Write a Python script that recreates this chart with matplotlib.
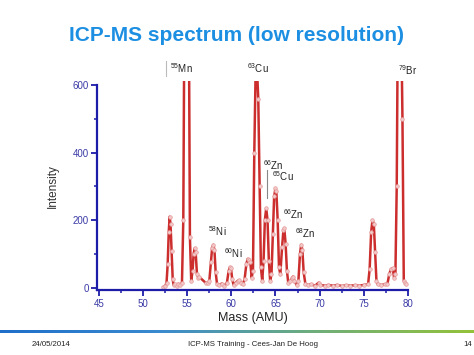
import numpy as np
import matplotlib
matplotlib.use("Agg")
import matplotlib.pyplot as plt
from matplotlib.colors import LinearSegmentedColormap

plt.rcParams['font.family'] = ['Liberation Sans', 'DejaVu Sans']
plt.rcParams['mathtext.fontset'] = 'custom'
plt.rcParams['mathtext.rm'] = 'Liberation Sans'
plt.rcParams['mathtext.it'] = 'Liberation Sans'

# Spectrum (mass in AMU, intensity in counts)
mass = [52.3, 52.5, 52.65, 52.78, 52.9, 53.0, 53.1, 53.22, 53.35, 53.45, 53.6, 53.8,
        54.0, 54.2, 54.4, 54.55, 54.65, 55.0, 55.2, 55.3, 55.45, 55.6, 55.72,
        55.85, 55.95, 56.1, 56.25, 56.35, 57.1, 57.3, 57.5, 57.68, 57.82, 57.95,
        58.08, 58.22, 58.38, 58.6, 58.9, 59.2, 59.5, 59.68, 59.82, 59.95, 60.1,
        60.25, 60.5, 60.7, 60.9, 61.1, 61.3, 61.5, 61.7, 61.85, 62.0, 62.15,
        62.3, 62.45, 62.6, 62.75, 62.95, 63.05, 63.2, 63.35, 63.5, 63.65, 63.8,
        63.95, 64.1, 64.25, 64.4, 64.55, 64.7, 64.85, 65.0, 65.1, 65.25, 65.4,
        65.55, 65.75, 65.9, 66.0, 66.15, 66.3, 66.45, 66.7, 66.9, 67.0, 67.15,
        67.4, 67.6, 67.78, 67.92, 68.05, 68.2, 68.4, 68.7, 69.0, 69.5, 69.9,
        70.1, 70.6, 71.0, 71.5, 72.0, 72.5, 73.0, 73.5, 74.0, 74.5, 75.0, 75.5,
        75.68, 75.85, 76.0, 76.15, 76.3, 76.45, 76.6, 77.0, 77.4, 77.7, 77.9,
        78.1, 78.3, 78.45, 78.6, 78.75, 78.9, 79.2, 79.4, 79.55, 79.7, 79.8]
intensity = [2, 5, 15, 70, 165, 210, 190, 110, 25, 8, 10, 6,
             12, 8, 15, 200, 700, 900, 700, 150, 20, 50, 100,
             117, 105, 40, 30, 32, 14, 15, 20, 75, 118, 127,
             112, 45, 10, 8, 12, 6, 15, 48, 60, 58, 25,
             8, 15, 20, 22, 15, 10, 25, 70, 85, 82, 75,
             30, 50, 400, 640, 620, 560, 300, 60, 20, 80, 200,
             235, 200, 80, 20, 40, 160, 270, 294, 285, 200, 60,
             40, 120, 170, 176, 130, 50, 15, 20, 30, 33, 20,
             8, 20, 100, 127, 112, 45, 10, 8, 10, 6, 15,
             8, 6, 8, 6, 8, 5, 7, 6, 7, 6, 8, 10,
             55, 165, 200, 190, 105, 20, 10, 8, 10, 12, 40,
             55, 57, 30, 40, 300, 900, 900, 500, 20, 15, 10]

# Peak labels: (text, mass, intensity)
peak_labels = [(r'$^{55}$Mn', 53.05, 650), (r'$^{63}$Cu', 61.75, 650),
               (r'$^{79}$Br', 78.87, 644), (r'$^{66}$Zn', 63.56, 363),
               (r'$^{65}$Cu', 64.65, 329), (r'$^{66}$Zn', 65.9, 218),
               (r'$^{68}$Zn', 67.22, 163), (r'$^{58}$Ni', 57.4, 168),
               (r'$^{60}$Ni', 59.2, 102)]

x_ticks = [45, 50, 55, 60, 65, 70, 75, 80]
y_ticks = [0, 200, 400, 600]

AXIS_BLUE = '#1c1ca8'
LABEL_BLUE = '#3a3aa6'

fig = plt.figure(figsize=(4.74, 3.55), dpi=100)
fig.patch.set_facecolor('white')

ax = fig.add_axes([0.2053, 0.182, 0.6568, 0.590])
ax.plot(mass, intensity, color='#cc2e2e', lw=1.8, marker='o', ms=2.6,
        mfc='#f3c9c9', mec='#e59a9a', mew=0.5)
ax.set_xlim(44.8, 80.1)
ax.set_ylim(-8, 612)

for s in ['top', 'right']:
    ax.spines[s].set_visible(False)
for s in ['left', 'bottom']:
    ax.spines[s].set_color(AXIS_BLUE)
    ax.spines[s].set_linewidth(1.6)
ax.spines['left'].set_bounds(-8, 600)
ax.spines['bottom'].set_bounds(44.8, 80.0)

ax.set_xticks(x_ticks)
ax.set_yticks(y_ticks)
ax.set_xticks([47.5, 52.5, 57.5, 62.5, 67.5, 72.5, 77.5], minor=True)
ax.set_yticks([100, 300, 500], minor=True)
ax.tick_params(axis='both', which='major', direction='out', length=4, width=1.3,
               color=AXIS_BLUE, labelcolor=LABEL_BLUE, labelsize=7, pad=2)
ax.tick_params(axis='both', which='minor', direction='out', length=2.5, width=1.1,
               color=AXIS_BLUE)

ax.set_ylabel('Intensity', fontsize=8.5, color='#333333', labelpad=10)
ax.set_xlabel('Mass (AMU)', fontsize=9, color='#222222', labelpad=2)

for txt, mx, iy in peak_labels:
    ax.text(mx, iy, txt, fontsize=7, color='#222222', ha='left', va='center',
            clip_on=False)

# small leader lines
ax.plot([52.6, 52.6], [628, 672], color='#bbbbbb', lw=0.8, clip_on=False)
ax.plot([64.0, 64.0], [265, 348], color='#888888', lw=0.8, clip_on=False)

fig.text(0.499, 0.901, 'ICP-MS spectrum (low resolution)', fontsize=15,
         fontweight='bold', color='#1d8fe2', ha='center', va='center')

# footer bar with gradient
bar = fig.add_axes([0.0, (355 - 333) / 355, 1.0, 3.5 / 355])
cmap = LinearSegmentedColormap.from_list('foot', ['#1f6ec9', '#3a8ad0', '#6fae7a', '#93c23a'])
bar.imshow(np.linspace(0, 1, 256)[None, :], aspect='auto', cmap=cmap)
bar.axis('off')

fig.text(51 / 474, 1 - 344 / 355, '24/05/2014', fontsize=5.6, color='#222222',
         ha='center', va='center')
fig.text(253 / 474, 1 - 344 / 355, 'ICP-MS Training - Cees-Jan De Hoog', fontsize=5.6,
         color='#222222', ha='center', va='center')
fig.text(468 / 474, 1 - 344 / 355, '14', fontsize=5.6, color='#222222',
         ha='center', va='center')

fig.savefig('out.png', dpi=100)
